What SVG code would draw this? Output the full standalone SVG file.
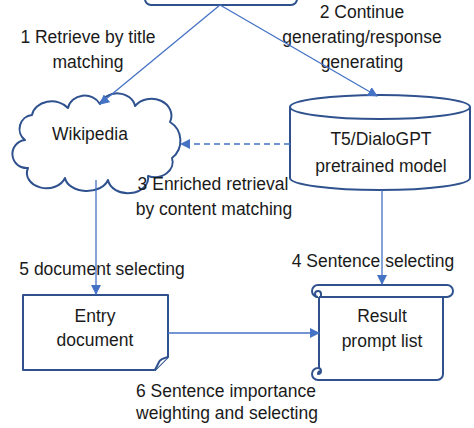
<svg xmlns="http://www.w3.org/2000/svg" width="474" height="428" viewBox="0 0 474 428">
<defs>
<style>
.shape{fill:#fff;stroke:#2F528F;stroke-width:2;stroke-linejoin:round}
.conn{stroke:#4472C4;stroke-width:1.3;fill:none}
.dash{stroke-dasharray:6 4}
text{font-family:"Liberation Sans",Arial,sans-serif;font-size:17.5px;fill:#1a1a1a;text-anchor:middle}
</style>
<marker id="ah" viewBox="0 0 10 10" refX="9" refY="5" markerWidth="10" markerHeight="10" markerUnits="userSpaceOnUse" orient="auto">
<path d="M0,0 L10,5 L0,10 Z" fill="#4472C4"/>
</marker>
</defs>
<rect width="474" height="428" fill="#fff"/>
<g id="top-box">
<rect class="shape" x="145" y="-20" width="152" height="25" rx="6"/>
</g>
<g id="wikipedia">
<path class="shape" d="M25,140 A14,14 0 0 1 32,115 A20,16 0 0 1 68,108 A17,15 0 0 1 100,104 A18,15 0 0 1 135,106 A20,17 0 0 1 170,122 A22,22 0 0 1 172,158 A18,15 0 0 1 148,176 A20,15 0 0 1 108,180 A22,15 0 0 1 65,178 A18,14 0 0 1 28,168 A13,13 0 0 1 25,140 Z"/>
<text x="90" y="140">Wikipedia</text>
</g>
<g id="model">
<path class="shape" d="M290,107 A90,12 0 0 1 470,107 L470,178 A90,12 0 0 1 290,178 Z"/>
<path class="shape" fill="none" d="M290,107 A90,12 0 0 0 470,107"/>
<text x="381" y="145">T5/DialoGPT</text>
<text x="381" y="172">pretrained model</text>
</g>
<g id="entry-document">
<path class="shape" d="M23,295 H168 V357 L155,370 H23 Z"/>
<path class="shape" d="M155,370 L159,362 Q160,359 168,357"/>
<text x="95" y="322">Entry</text>
<text x="95" y="346">document</text>
</g>
<g id="result">
<path class="shape" d="M319,297 H318 A6,6 0 0 1 318,285 H447 A6,6 0 0 1 447,297 H443 V374 A6,6 0 0 1 437,380 H318 A6,6 0 0 1 318,368 H319 Z"/>
<path class="shape" fill="none" d="M319,297 H443 M318,297 A3,3 0 0 1 318,291 A3,3 0 0 1 321,294 L321,297 M318,368 A3,3 0 0 1 318,374 A3,3 0 0 1 321,371"/>
<text x="382" y="322">Result</text>
<text x="382" y="347">prompt list</text>
</g>
<g id="labels">
<text x="88" y="43">1 Retrieve by title</text>
<text x="88" y="68">matching</text>
<text x="362" y="18">2 Continue</text>
<text x="362" y="43">generating/response</text>
<text x="362" y="68">generating</text>
<text x="213" y="190">3 Enriched retrieval</text>
<text x="214" y="215">by content matching</text>
<text x="102" y="275">5 document selecting</text>
<text x="373" y="267">4 Sentence selecting</text>
<text x="226" y="397">6 Sentence importance</text>
<text x="227" y="419">weighting and selecting</text>
</g>
<g id="connectors">
<line class="conn" x1="220" y1="5" x2="100" y2="104" marker-end="url(#ah)"/>
<line class="conn" x1="220" y1="5" x2="377" y2="96" marker-end="url(#ah)"/>
<line class="conn dash" x1="290" y1="144" x2="181" y2="144" marker-end="url(#ah)"/>
<line class="conn" x1="96" y1="180" x2="96" y2="294" marker-end="url(#ah)"/>
<line class="conn" x1="382" y1="190" x2="382" y2="284" marker-end="url(#ah)"/>
<line class="conn" x1="168" y1="333" x2="319" y2="333" marker-end="url(#ah)"/>
</g>
</svg>
